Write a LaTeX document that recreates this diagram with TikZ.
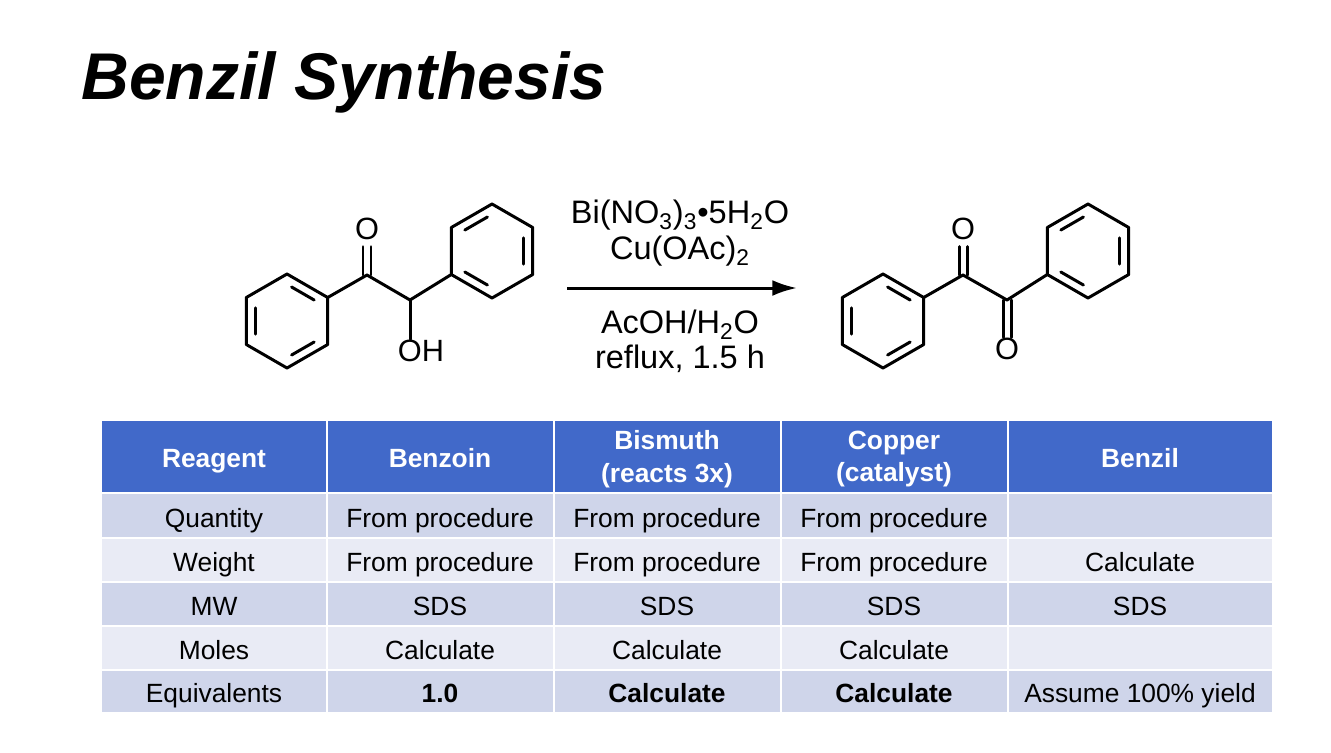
\documentclass[tikz,border=0pt]{standalone}
\usepackage{fontspec}
\setmainfont{Liberation Sans}
\usetikzlibrary{calc,positioning,arrows.meta}
\definecolor{hdrblue}{HTML}{4169C9}
\definecolor{rowdark}{HTML}{CFD5EA}
\definecolor{rowlight}{HTML}{E9EBF5}
\tikzset{
  bond/.style={line width=1.7pt,line cap=round,line join=round},
  inner/.style={bond,shorten >=3pt,shorten <=3pt},
  atom/.style={inner sep=0pt,text height=0.72em,text depth=0pt,font=\fontsize{17.5}{18}\selectfont},
  cond/.style={inner sep=0pt,yshift=-2.6pt,text height=0.72em,text depth=0pt,font=\fontsize{18.5}{20}\selectfont},
  cell/.style={inner sep=0pt,yshift=-2.3pt,align=center,text height=0.72em,text depth=0pt,font=\fontsize{15}{18.7}\selectfont},
  hcell/.style={cell,text=white,font=\fontsize{15}{18.7}\selectfont\bfseries},
  hhcell/.style={inner sep=0pt,align=center,text=white,font=\fontsize{15}{18.7}\selectfont\bfseries},
  bcell/.style={cell,font=\fontsize{15}{18.7}\selectfont\bfseries},
}
% hexagon with pointed top: vertices 1..6 clockwise from the top
\newcommand\benzring[3]{%
  \coordinate (#1c) at (#2,#3);
  \foreach \i/\a in {1/-90,2/-30,3/30,4/90,5/150,6/210}
    \coordinate (#1\i) at ($(#1c)+(\a:47)$);
  \draw[bond] (#11)--(#12)--(#13)--(#14)--(#15)--(#16)--cycle;}
\newcommand\innerbond[3]{\draw[inner] ($(#1c)!0.78!(#1#2)$) -- ($(#1c)!0.78!(#1#3)$);}
\begin{document}
\begin{tikzpicture}[x=0.02cm,y=-0.02cm]
\useasboundingbox (0,0) rectangle (1331,752);
\node[anchor=west,inner sep=0pt,font=\fontsize{37.6}{40}\selectfont\bfseries\itshape] (title) at (81,82) {Benzil Synthesis};

% benzoin
\benzring{ba}{287}{321}
\innerbond{ba}{1}{2}\innerbond{ba}{3}{4}\innerbond{ba}{5}{6}
\benzring{bb}{492}{251}
\innerbond{bb}{6}{1}\innerbond{bb}{2}{3}\innerbond{bb}{4}{5}
\coordinate (co) at (367,275);
\coordinate (ch) at (410,300);
\node[atom] (o1) at (367,233) {O};
\node[atom] (oh) at (421,355) {OH};
\draw[bond] (ba2) -- (co) -- (ch) -- (bb5);
\draw[bond] (ch) -- ($(ch|-oh.north)+(0,-9)$);
\draw[bond] ($(co)+(-4,0)$) -- ($(o1.south)+(-4,7)$);
\draw[bond] ($(co)+(4,0)$) -- ($(o1.south)+(4,7)$);

% arrow and conditions
\coordinate (arrs) at (567,288);
\coordinate (arre) at (797,288);
\draw[line width=1.7pt,-{Latex[length=14pt,width=9pt]}] (arrs) -- (arre);
\node[cond] (c1) at (680,213) {Bi(NO\textsubscript{3})\textsubscript{3}•5H\textsubscript{2}O};
\node[cond] (c2) at (680,249) {Cu(OAc)\textsubscript{2}};
\node[cond] (c3) at (680,323) {AcOH/H\textsubscript{2}O};
\node[cond] (c4) at (680,358) {reflux, 1.5 h};

% benzil
\benzring{pa}{883}{321}
\innerbond{pa}{1}{2}\innerbond{pa}{3}{4}\innerbond{pa}{5}{6}
\benzring{pb}{1088}{251}
\innerbond{pb}{6}{1}\innerbond{pb}{2}{3}\innerbond{pb}{4}{5}
\coordinate (k1) at (963,275);
\coordinate (k2) at (1007,300);
\node[atom] (o2) at (963,233) {O};
\node[atom] (o3) at (1007,353) {O};
\draw[bond] (pa2) -- (k1) -- (k2) -- (pb5);
\draw[bond] ($(k1)+(-4,0)$) -- ($(o2.south)+(-4,7)$);
\draw[bond] ($(k1)+(4,0)$) -- ($(o2.south)+(4,7)$);
\draw[bond] ($(k2)+(-4,0)$) -- ($(o3.north)+(-4,-9)$);
\draw[bond] ($(k2)+(4,0)$) -- ($(o3.north)+(4,-9)$);

% table
\foreach \ya/\yb/\col in {420/493/hdrblue,493/538/rowdark,538/582/rowlight,582/626/rowdark,626/670/rowlight,670/713/rowdark}
  \foreach \xa/\xb in {101/327,327/554,554/781,781/1008,1008/1273}
    \draw[fill=\col,draw=white,line width=1pt] (\xa,\ya) rectangle (\xb,\yb);
\node[hcell] (h1) at (214,457) {Reagent};
\node[hcell] (h2) at (440,457) {Benzoin};
\node[hhcell] (h3) at (667,459) {Bismuth\\(reacts 3x)};
\node[hhcell] (h4) at (894,459) {Copper\\(catalyst)};
\node[hcell] (h5) at (1140,457) {Benzil};
\node[cell] (q1) at (214,517) {Quantity};
\node[cell] (q2) at (440,517) {From procedure};
\node[cell] (q3) at (667,517) {From procedure};
\node[cell] (q4) at (894,517) {From procedure};
\node[cell] (w1) at (214,561) {Weight};
\node[cell] (w2) at (440,561) {From procedure};
\node[cell] (w3) at (667,561) {From procedure};
\node[cell] (w4) at (894,561) {From procedure};
\node[cell] (w5) at (1140,561) {Calculate};
\node[cell] (m1) at (214,605) {MW};
\node[cell] (m2) at (440,605) {SDS};
\node[cell] (m3) at (667,605) {SDS};
\node[cell] (m4) at (894,605) {SDS};
\node[cell] (m5) at (1140,605) {SDS};
\node[cell] (n1) at (214,649) {Moles};
\node[cell] (n2) at (440,649) {Calculate};
\node[cell] (n3) at (667,649) {Calculate};
\node[cell] (n4) at (894,649) {Calculate};
\node[cell] (e1) at (214,692) {Equivalents};
\node[bcell] (e2) at (440,692) {1.0};
\node[bcell] (e3) at (667,692) {Calculate};
\node[bcell] (e4) at (894,692) {Calculate};
\node[cell] (e5) at (1140,692) {Assume 100\% yield};
\end{tikzpicture}
\end{document}
